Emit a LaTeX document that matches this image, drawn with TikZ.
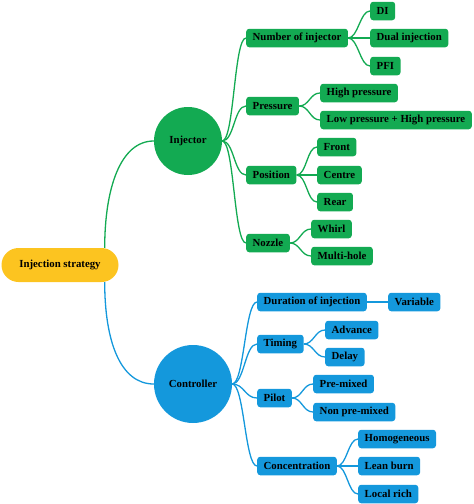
\documentclass[tikz,border=0pt]{standalone}
\usepackage{fontspec}
\setmainfont{Liberation Serif}
\usepackage{xcolor}
\usetikzlibrary{positioning}
\definecolor{mmgreen}{RGB}{19,170,82}
\definecolor{mmblue}{RGB}{20,152,220}
\definecolor{mmyellow}{RGB}{252,196,32}

\begin{document}
\begin{tikzpicture}[
  x=1pt, y=-1pt,
  every node/.style={font=\fontsize{10.8}{13}\selectfont\bfseries},
  hub/.style={circle, inner sep=0pt},
  gleaf/.style={fill=mmgreen, rounded corners=3pt, minimum height=18.5pt, inner xsep=6.5pt, inner ysep=0pt, anchor=west},
  bleaf/.style={gleaf, fill=mmblue},
  gline/.style={draw=mmgreen, line width=1.3pt},
  bline/.style={draw=mmblue, line width=1.3pt},
  link/.style={to path={.. controls ([xshift=#1]\tikztostart) and ([xshift=-#1]\tikztotarget) .. (\tikztotarget)}},
  link/.default=10pt,
]
\useasboundingbox (0,0) rectangle (474,504);

% root and hubs
\node[fill=mmyellow, rounded corners=17pt, minimum width=117pt, minimum height=34pt, inner sep=0pt] (root) at (60,265) {Injection strategy};
\node[hub, fill=mmgreen, minimum size=68pt] (inj) at (188,141) {Injector};
\node[hub, fill=mmblue, minimum size=78pt] (ctrl) at (193,384) {Controller};

% injector branch
\node[gleaf] (num) at (246,38) {Number of injector};
\node[gleaf] (press) at (246,106) {Pressure};
\node[gleaf] (pos) at (246,175) {Position};
\node[gleaf] (noz) at (246,243) {Nozzle};
\node[gleaf] (di) at (370,11) {DI};
\node[gleaf] (dual) at (370,38) {Dual injection};
\node[gleaf] (pfi) at (370,66) {PFI};
\node[gleaf] (hp) at (320,93) {High pressure};
\node[gleaf] (lphp) at (320,120) {Low pressure + High pressure};
\node[gleaf] (front) at (317,147) {Front};
\node[gleaf] (centre) at (317,175) {Centre};
\node[gleaf] (rear) at (317,202) {Rear};
\node[gleaf] (whirl) at (311,229) {Whirl};
\node[gleaf] (multi) at (311,256) {Multi-hole};

% controller branch
\node[bleaf] (dur) at (257,302) {Duration of injection};
\node[bleaf] (timing) at (257,344) {Timing};
\node[bleaf] (pilot) at (257,398) {Pilot};
\node[bleaf] (conc) at (257,466) {Concentration};
\node[bleaf] (var) at (388,302) {Variable};
\node[bleaf] (adv) at (325,330) {Advance};
\node[bleaf] (delay) at (325,357) {Delay};
\node[bleaf] (premix) at (313,384) {Pre-mixed};
\node[bleaf] (nonpremix) at (313,412) {Non pre-mixed};
\node[bleaf] (homo) at (358,439) {Homogeneous};
\node[bleaf] (lean) at (358,466) {Lean burn};
\node[bleaf] (local) at (358,494) {Local rich};

% connectors
\draw[gline] ([xshift=-14pt]root.north east) .. controls +(0,-58) and +(-34,0) .. (inj.west);
\draw[bline] ([xshift=-14pt]root.south east) .. controls +(0,58) and +(-34,0) .. (ctrl.west);
\draw[gline] (inj.east) to[link=12pt] (num.west);
\draw[gline] (inj.east) to[link=12pt] (press.west);
\draw[gline] (inj.east) to[link=12pt] (pos.west);
\draw[gline] (inj.east) to[link=12pt] (noz.west);
\draw[gline] (num.east) to[link] (di.west);
\draw[gline] (num.east) to[link] (dual.west);
\draw[gline] (num.east) to[link] (pfi.west);
\draw[gline] (press.east) to[link] (hp.west);
\draw[gline] (press.east) to[link] (lphp.west);
\draw[gline] (pos.east) to[link] (front.west);
\draw[gline] (pos.east) to[link] (centre.west);
\draw[gline] (pos.east) to[link] (rear.west);
\draw[gline] (noz.east) to[link] (whirl.west);
\draw[gline] (noz.east) to[link] (multi.west);
\draw[bline] (ctrl.east) to[link=12pt] (dur.west);
\draw[bline] (ctrl.east) to[link=12pt] (timing.west);
\draw[bline] (ctrl.east) to[link=12pt] (pilot.west);
\draw[bline] (ctrl.east) to[link=12pt] (conc.west);
\draw[bline] (dur.east) -- (var.west);
\draw[bline] (timing.east) to[link] (adv.west);
\draw[bline] (timing.east) to[link] (delay.west);
\draw[bline] (pilot.east) to[link] (premix.west);
\draw[bline] (pilot.east) to[link] (nonpremix.west);
\draw[bline] (conc.east) to[link] (homo.west);
\draw[bline] (conc.east) to[link] (lean.west);
\draw[bline] (conc.east) to[link] (local.west);
\end{tikzpicture}
\end{document}
